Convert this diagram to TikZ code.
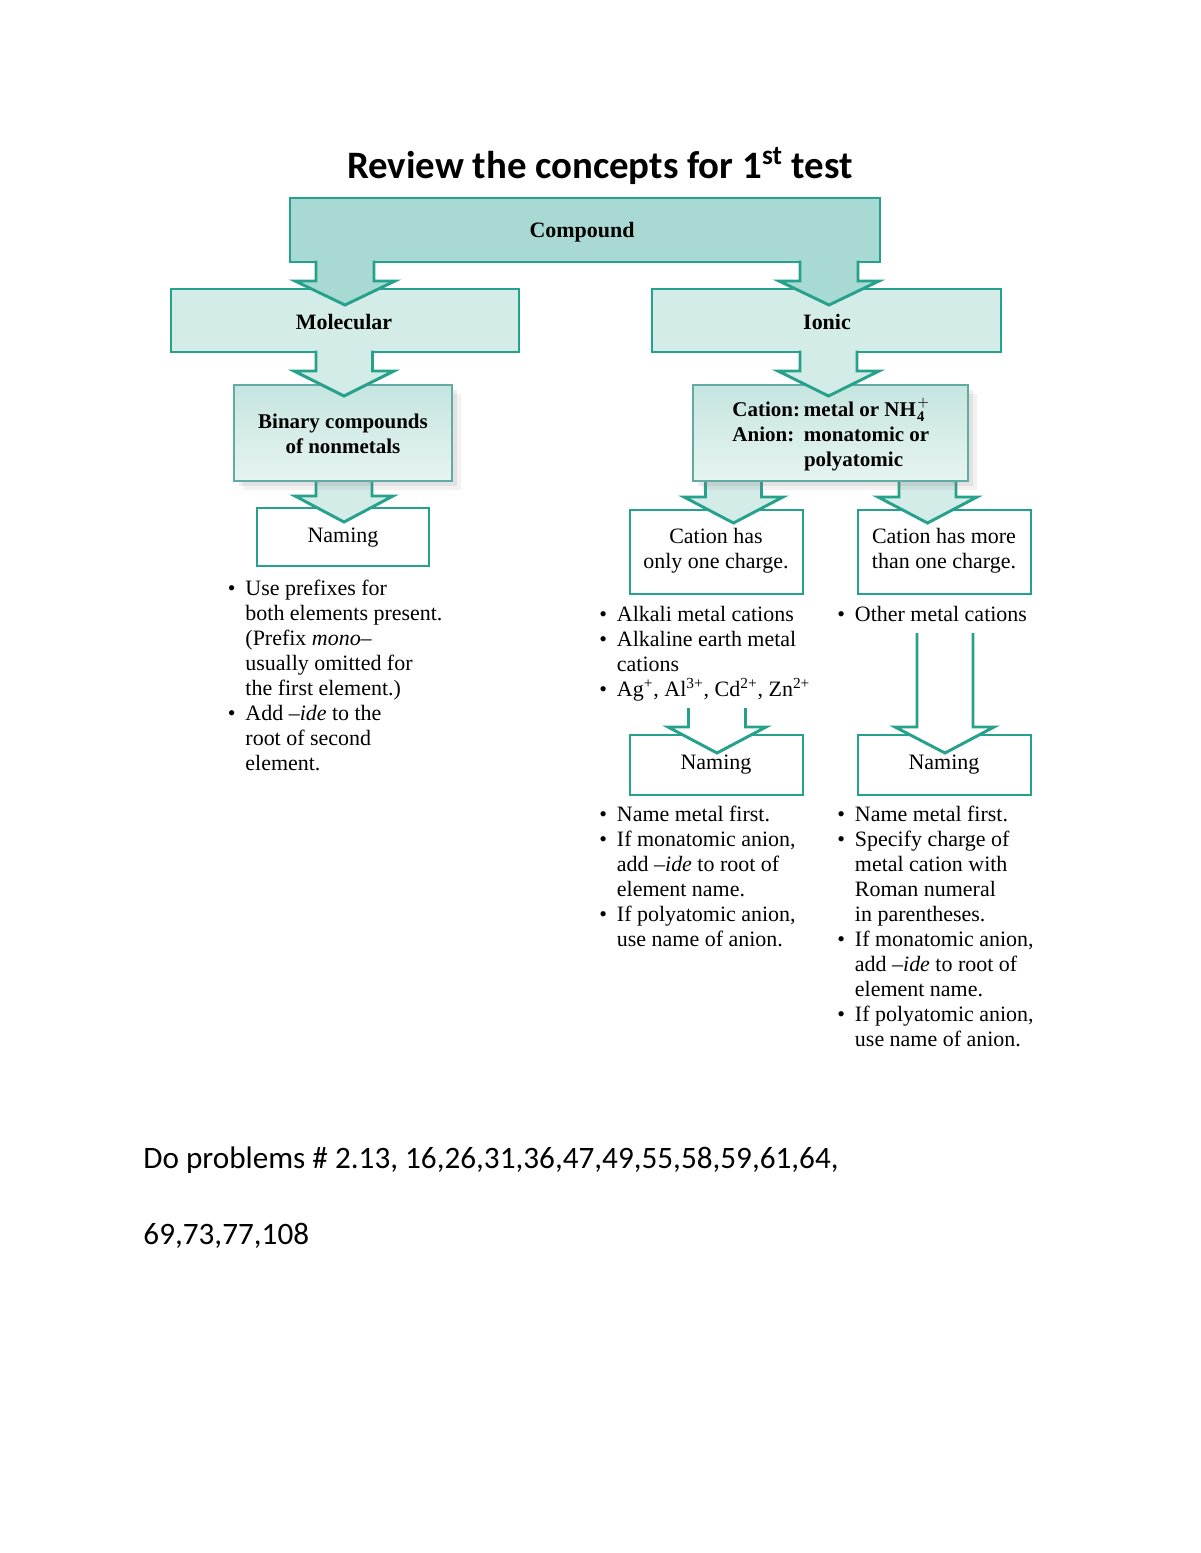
\documentclass[tikz,border=0pt]{standalone}
\usepackage{fontspec}
\setmainfont{Liberation Serif}
\newfontfamily\calibrifont{Carlito}
\usetikzlibrary{shadows}

\definecolor{tealline}{HTML}{26A18C}
\definecolor{midteal}{HTML}{A8D9D2}
\definecolor{lightteal}{HTML}{D4ECE8}
\definecolor{boxedge}{HTML}{62ABA4}
\definecolor{shadetop}{HTML}{C6E5E0}
\definecolor{shadebot}{HTML}{E6F4F1}

\begin{document}
\begin{tikzpicture}[x=0.51pt,y=-0.51pt,line width=1.5pt,line join=miter,
  compoundbox/.style={draw=tealline,fill=midteal},
  tealbox/.style={draw=tealline,fill=lightteal},
  shadebox/.style={draw=boxedge,top color=shadetop,bottom color=shadebot,
    drop shadow={opacity=0.10,shadow xshift=4.5pt,shadow yshift=-4.5pt},
    drop shadow={opacity=0.14,shadow xshift=2.5pt,shadow yshift=-2.5pt}},
  namebox/.style={draw=tealline,fill=white},
  blockarr/.style={draw=tealline,fill=#1},
  boldlabel/.style={font=\bfseries\fontsize{11.2}{12.75}\selectfont,align=center,inner sep=0pt},
  boldsmall/.style={font=\bfseries\fontsize{10.7}{12.75}\selectfont,align=center,inner sep=0pt},
  plainlabel/.style={font=\fontsize{11.2}{12.75}\selectfont,align=center,inner sep=0pt},
  bullets/.style={font=\fontsize{11.2}{12.75}\selectfont,anchor=base west,inner sep=0pt}]

\useasboundingbox (0,0) rectangle (1200,1553);

\node[font=\calibrifont\bfseries\fontsize{19.8}{24}\selectfont] (title) at (600,166)
  {Review the concepts for 1\textsuperscript{st} test};

% lower naming boxes
\draw[namebox] (630,735) rectangle (803,795);
\draw[namebox] (858,735) rectangle (1031,795);
\draw[blockarr=white] (688.5,708) -- (688.5,727) -- (668,727) -- (717,753) -- (766,727) -- (745.5,727) -- (745.5,708);
\draw[blockarr=white] (917,633) -- (917,727) -- (895,727) -- (945,753) -- (994,727) -- (973,727) -- (973,633);
\node[plainlabel] (naming2) at (716,765) {Naming};
\node[plainlabel] (naming3) at (944,765) {Naming};

% boxes under binary and cation boxes
\draw[namebox] (257,508) rectangle (429,566);
\draw[namebox] (630,510) rectangle (803,594);
\draw[namebox] (858,510) rectangle (1031,594);
\draw[blockarr=lightteal] (316,481) -- (316,496) -- (295,496) -- (344,522) -- (393,496) -- (372,496) -- (372,481);
\draw[blockarr=lightteal] (705.5,481) -- (705.5,497) -- (684,497) -- (733.5,523) -- (783,497) -- (761.5,497) -- (761.5,481);
\draw[blockarr=lightteal] (899,481) -- (899,497) -- (878,497) -- (927.5,523) -- (977,497) -- (956,497) -- (956,481);
\node[plainlabel] (naming1) at (343,538) {Naming};
\node[plainlabel] (onecharge) at (716,551) {Cation has\\only one charge.};
\node[plainlabel] (morecharge) at (944,551) {Cation has more\\than one charge.};

% binary and cation boxes
\draw[shadebox] (234,385) rectangle (452,481);
\draw[shadebox] (693,385) rectangle (968,481);
\node[boldsmall] (binary) at (343,434) {Binary compounds\\of nonmetals};
\node[bullets,font=\bfseries\fontsize{10.7}{12.75}\selectfont] (cation) at (731,416)
  {\begin{tabular}[t]{@{}l@{\hspace{2pt}}l@{}}
   Cation: & metal or NH\kern0.6pt$^{+}_{\mathbf{4}}$\\
   Anion: & monatomic or\\
          & polyatomic
   \end{tabular}};

% molecular and ionic
\draw[tealbox] (171,289) rectangle (519,352);
\draw[tealbox] (652,289) rectangle (1001,352);
\draw[blockarr=lightteal] (316,350.5) -- (316,371) -- (294,371) -- (344,396) -- (394,371) -- (372.5,371) -- (372.5,350.5);
\draw[blockarr=lightteal] (800,350.5) -- (800,371) -- (778,371) -- (828.5,396) -- (879,371) -- (857,371) -- (857,350.5);
\node[boldlabel] (molecular) at (344,322) {Molecular};
\node[boldlabel] (ionic) at (827,322) {Ionic};

% compound
\draw[compoundbox] (290,198) rectangle (880,262);
\draw[blockarr=midteal] (316,260.5) -- (316,281) -- (295,281) -- (345,305) -- (395,281) -- (374,281) -- (374,260.5);
\draw[blockarr=midteal] (800,260.5) -- (800,281) -- (779,281) -- (829,305) -- (879,281) -- (858,281) -- (858,260.5);
\node[boldlabel] (compound) at (582,232) {Compound};

% bullet lists
\node[bullets] (molnaming) at (226.5,595)
  {\begin{tabular}[t]{@{}l@{\hspace{5pt}}l@{}}
   \textbullet & Use prefixes for\\
               & both elements present.\\
               & (Prefix \textit{mono}--\\
               & usually omitted for\\
               & the first element.)\\
   \textbullet & Add --\textit{ide} to the\\
               & root of second\\
               & element.
   \end{tabular}};
\node[bullets] (onelist) at (598,621)
  {\begin{tabular}[t]{@{}l@{\hspace{5pt}}l@{}}
   \textbullet & Alkali metal cations\\
   \textbullet & Alkaline earth metal\\
               & cations\\
   \textbullet & Ag\textsuperscript{+}, Al\textsuperscript{3+}, Cd\textsuperscript{2+}, Zn\textsuperscript{2+}
   \end{tabular}};
\node[bullets] (morelist) at (836,621)
  {\begin{tabular}[t]{@{}l@{\hspace{5pt}}l@{}}
   \textbullet & Other metal cations
   \end{tabular}};
\node[bullets] (onenaming) at (598,821)
  {\begin{tabular}[t]{@{}l@{\hspace{5pt}}l@{}}
   \textbullet & Name metal first.\\
   \textbullet & If monatomic anion,\\
               & add --\textit{ide} to root of\\
               & element name.\\
   \textbullet & If polyatomic anion,\\
               & use name of anion.
   \end{tabular}};
\node[bullets] (morenaming) at (836,821)
  {\begin{tabular}[t]{@{}l@{\hspace{5pt}}l@{}}
   \textbullet & Name metal first.\\
   \textbullet & Specify charge of\\
               & metal cation with\\
               & Roman numeral\\
               & in parentheses.\\
   \textbullet & If monatomic anion,\\
               & add --\textit{ide} to root of\\
               & element name.\\
   \textbullet & If polyatomic anion,\\
               & use name of anion.
   \end{tabular}};

% problems
\node[font=\calibrifont\fontsize{15.9}{19}\selectfont,anchor=base west,inner sep=0pt] (problems) at (142,1168)
  {Do problems \# 2.13, 16,26,31,36,47,49,55,58,59,61,64,};
\node[font=\calibrifont\fontsize{15.9}{19}\selectfont,anchor=base west,inner sep=0pt] (problems2) at (142,1244)
  {69,73,77,108};

\end{tikzpicture}
\end{document}
